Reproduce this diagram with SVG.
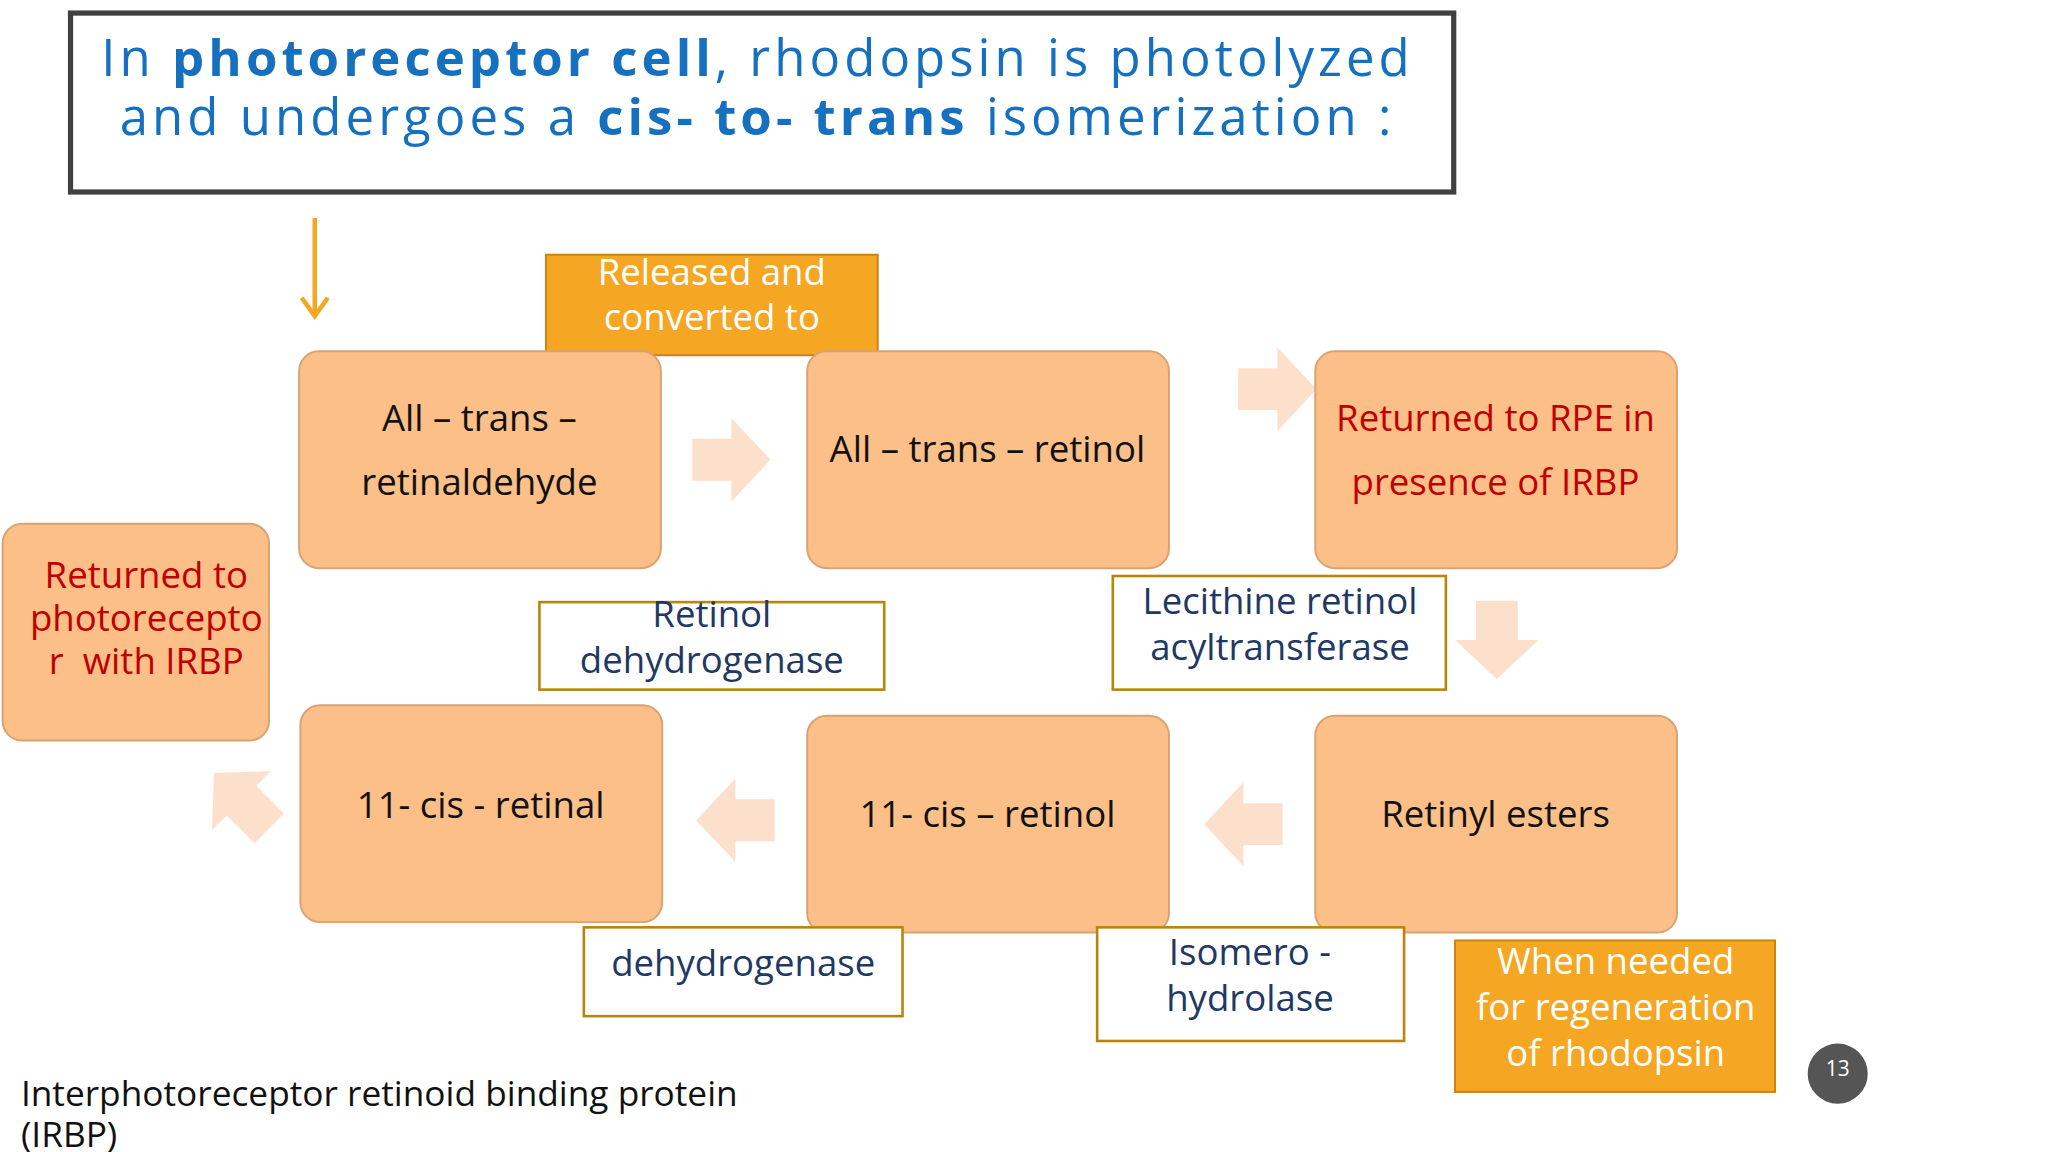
<svg xmlns="http://www.w3.org/2000/svg" width="2048" height="1152" viewBox="0 0 2048 1152">
<defs>
<style>
.nd{fill:#fbbf87;stroke:#d9a273;stroke-width:1.5}
.lb{fill:#fff;stroke:#b8860b;stroke-width:2}
.ob{fill:#f5a623;stroke:#c98416;stroke-width:1.5}
.t{font-family:"Open Sans","Noto Sans",sans-serif;font-size:28px;text-anchor:middle}
.blk{fill:#111}
.red{fill:#c00000}
.nav{fill:#1f3864}
.wh{fill:#fff}
.ba{fill:#fde0cc}
</style>
<path id="ar" d="M0,16 H30 V0 L60,32 L30,64 V48 H0 Z"/>
</defs>
<rect width="2048" height="1152" fill="#fff"/>
<g transform="scale(1.30612)">
<g id="title">
<rect x="54" y="10" width="1059" height="137" fill="#fff" stroke="#404040" stroke-width="4"/>
<text x="580" y="58" text-anchor="middle" font-family="Open Sans,Noto Sans,sans-serif" font-size="39" letter-spacing="3.1" fill="#1570c0">In <tspan font-weight="bold">photoreceptor cell</tspan>, rhodopsin is photolyzed</text>
<text x="580" y="103" text-anchor="middle" font-family="Open Sans,Noto Sans,sans-serif" font-size="39" letter-spacing="3.1" fill="#1570c0">and undergoes a <tspan font-weight="bold">cis- to- trans</tspan> isomerization :</text>
</g>
<g id="connectors">
<path d="M241,167 V240 M231,228 L241,242 L251,228" fill="none" stroke="#f5a623" stroke-width="3.5"/>
<use href="#ar" class="ba" transform="translate(530,320)"/>
<use href="#ar" class="ba" transform="translate(948,266)"/>
<use href="#ar" class="ba" transform="translate(1178,460) rotate(90)"/>
<use href="#ar" class="ba" transform="translate(593,660) rotate(180)"/>
<use href="#ar" class="ba" transform="translate(982,663) rotate(180)"/>
<use href="#ar" class="ba" transform="translate(185,613) rotate(225) translate(-30,-32)"/>
</g>
<g id="released"><rect class="ob" x="418" y="195" width="254" height="77"/><text class="t wh" x="545" y="218">Released and</text><text class="t wh" x="545" y="253">converted to</text></g>
<g id="n1"><rect class="nd" x="229" y="269" width="277" height="166" rx="15"/><text class="t blk" x="367" y="330">All – trans –</text><text class="t blk" x="367" y="379">retinaldehyde</text></g>
<g id="n2"><rect class="nd" x="618" y="269" width="277" height="166" rx="15"/><text class="t blk" x="756" y="354">All – trans – retinol</text></g>
<g id="n3"><rect class="nd" x="1007" y="269" width="277" height="166" rx="15"/><text class="t red" x="1145" y="330">Returned to RPE in</text><text class="t red" x="1145" y="379">presence of IRBP</text></g>
<g id="n4"><rect class="nd" x="2" y="401" width="204" height="166" rx="15"/><text class="t red" x="112" y="450">Returned to</text><text class="t red" x="112" y="483">photorecepto</text><text class="t red" x="112" y="516" xml:space="preserve">r  with IRBP</text></g>
<g id="n5"><rect class="nd" x="230" y="540" width="277" height="166" rx="15"/><text class="t blk" x="368" y="626">11- cis - retinal</text></g>
<g id="n6"><rect class="nd" x="618" y="548" width="277" height="166" rx="15"/><text class="t blk" x="756" y="633">11- cis – retinol</text></g>
<g id="n7"><rect class="nd" x="1007" y="548" width="277" height="166" rx="15"/><text class="t blk" x="1145" y="633">Retinyl esters</text></g>
<g id="l1"><rect class="lb" x="413" y="461" width="264" height="67"/><text class="t nav" x="545" y="480">Retinol</text><text class="t nav" x="545" y="515">dehydrogenase</text></g>
<g id="l2"><rect class="lb" x="852" y="441" width="255" height="87"/><text class="t nav" x="980" y="470">Lecithine retinol</text><text class="t nav" x="980" y="505">acyltransferase</text></g>
<g id="l3"><rect class="lb" x="447" y="710" width="244" height="68"/><text class="t nav" x="569" y="747">dehydrogenase</text></g>
<g id="l4"><rect class="lb" x="840" y="710" width="235" height="87"/><text class="t nav" x="957" y="739">Isomero -</text><text class="t nav" x="957" y="774">hydrolase</text></g>
<g id="when"><rect class="ob" x="1114" y="720" width="245" height="116"/><text class="t wh" x="1237" y="746">When needed</text><text class="t wh" x="1237" y="781">for regeneration</text><text class="t wh" x="1237" y="816">of rhodopsin</text></g>
<g id="page"><circle cx="1407" cy="822" r="23" fill="#555"/><text x="1407" y="824" text-anchor="middle" font-family="Open Sans,sans-serif" font-size="16" fill="#fff">13</text></g>
<text x="16" y="847" font-family="Open Sans,Noto Sans,sans-serif" font-size="27" fill="#111">Interphotoreceptor retinoid binding protein</text>
<text x="16" y="878" font-family="Open Sans,Noto Sans,sans-serif" font-size="27" fill="#111">(IRBP)</text>
</g>
</svg>
